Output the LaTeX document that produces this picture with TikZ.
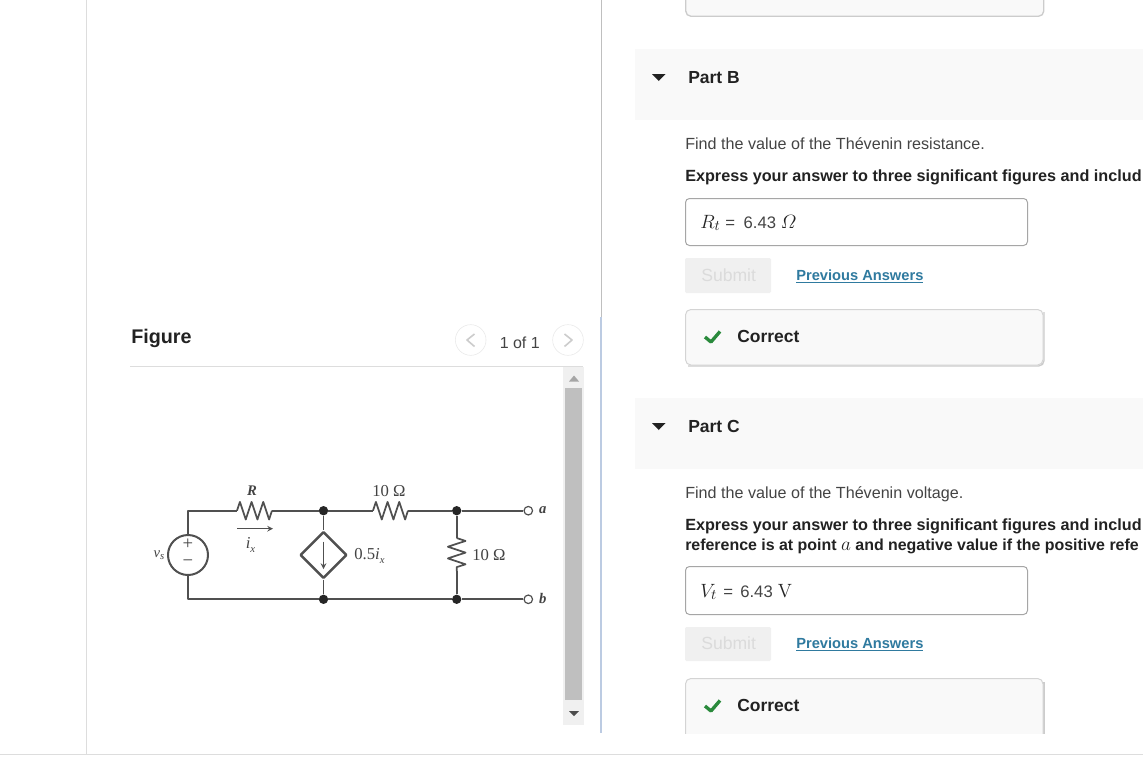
\documentclass[tikz,border=0pt]{standalone}
\usepackage[no-math]{fontspec}
\setmainfont{Liberation Sans}
\newfontfamily\figfont{Liberation Serif}
\usetikzlibrary{shapes.geometric,decorations.pathmorphing}
\definecolor{rulegray}{HTML}{DDDDDD}
\definecolor{bandgray}{HTML}{F9F9F9}
\definecolor{wiregray}{HTML}{505050}
\definecolor{textgray}{HTML}{444444}
\definecolor{inkgray}{HTML}{222222}
\definecolor{linkblue}{HTML}{2F7A9F}
\definecolor{okgreen}{HTML}{2A8A3C}
\definecolor{paneblue}{HTML}{BCCBE2}
\newcommand{\ixlabel}{\textit{i}\raisebox{-2.5pt}{\footnotesize\textit{x}}}
\begin{document}
\begin{tikzpicture}[x=0.75pt,y=-0.75pt,line join=round,>=stealth]
	\tikzset{
		txt/.style={anchor=base west,inner sep=0pt,font=\fontsize{12}{14}\selectfont},
		headtxt/.style={txt,font=\fontsize{13.1}{15}\selectfont\bfseries,text=inkgray},
		bodytxt/.style={txt,font=\fontsize{12.1}{14}\selectfont,text=textgray},
		boldtxt/.style={txt,font=\fontsize{12.15}{14}\selectfont\bfseries,text=inkgray},
		linktxt/.style={txt,font=\fontsize{11}{14}\selectfont\bfseries,text=linkblue},
		subtxt/.style={txt,font=\fontsize{13.2}{15}\selectfont,text=black!14},
		wire/.style={draw=wiregray,line width=1.3pt},
		res/.style={wire,decorate,decoration={zigzag,segment length=8.75pt,amplitude=6.6pt,pre length=0pt,post length=0pt}},
		dot/.style={circle,fill=black!85,inner sep=0pt,minimum size=7pt},
		term/.style={circle,draw=wiregray,fill=white,line width=0.9pt,inner sep=0pt,minimum size=6.4pt},
		figlbl/.style={inner sep=0pt,text=inkgray!85,font=\figfont\fontsize{12.5}{14}\selectfont},
		navbtn/.style={circle,draw=black!9,inner sep=0pt,minimum size=23pt},
		chev/.style={draw=black!20,line width=1.2pt},
		inbox/.style={draw=black!35,fill=white,line width=0.75pt,rounded corners=3pt},
		okbox/.style={draw=black!17,fill=bandgray,line width=0.75pt,rounded corners=4pt},
		okshade/.style={draw=black!20,line width=1pt,rounded corners=4pt}
	}
	\useasboundingbox (0,0) rectangle (1143,761);
	\fill[white] (0,0) rectangle (1143,761);
	% page rules
	\draw[rulegray] (86.5,0)--(86.5,754);
	\draw[rulegray] (0,754.5)--(1143,754.5);
	\draw[black!25] (601.5,0)--(601.5,317);
	\draw[paneblue,line width=1.5pt] (601,317)--(601,733);
	% figure pane
	\node[txt,font=\fontsize{14.8}{18}\selectfont\bfseries,text=inkgray] (figtitle) at (131,343.5) {Figure};
	\draw[rulegray] (130,366.5)--(583,366.5);
	\node[navbtn] (prevbtn) at (470.7,340) {};
	\node[navbtn] (nextbtn) at (568,340) {};
	\draw[chev] (474.5,334)--(467,340)--(474.5,346.5);
	\draw[chev] (564.5,334)--(572,340)--(564.5,346.5);
	\node[txt,text=textgray] (pagecount) at (499.5,348) {1 of 1};
	\fill[black!6] (563,367) rectangle (584,725);
	\fill[black!25] (565,388) rectangle (582,700);
	\fill[black!35] (569,381.5)--(579,381.5)--(574,375.5)--cycle;
	\fill[black!70] (569,711)--(579,711)--(574,716)--cycle;
	% circuit
	\node[circle,draw=wiregray,line width=1.5pt,inner sep=0pt,minimum size=30pt] (vs) at (188,555) {};
	\node[diamond,draw=wiregray,line width=1.8pt,inner sep=0pt,minimum size=35pt] (dep) at (323.5,555) {};
	\node[dot] (ntop1) at (323.5,510.7) {};
	\node[dot] (ntop2) at (456.7,510.7) {};
	\node[dot] (nbot1) at (323.5,599.3) {};
	\node[dot] (nbot2) at (456.7,599.3) {};
	\node[term] (ta) at (528.3,510.7) {};
	\node[term] (tb) at (528.3,599.3) {};
	\coordinate (rl) at (237,510.7);
	\coordinate (rr) at (272,510.7);
	\coordinate (sl) at (373,510.7);
	\coordinate (sr) at (408,510.7);
	\coordinate (pt) at (456.7,538);
	\coordinate (pb) at (456.7,571);
	\coordinate (itail) at (237,528.7);
	\coordinate (ihead) at (273,528.7);
	\coordinate (dtail) at (323.5,541.5);
	\coordinate (dhead) at (323.5,569);
	\draw[wire] (vs.north) |- (rl);
	\draw[res] (rl)--(rr);
	\draw[wire] (rr)--(ntop1);
	\draw[wire] (ntop1)--(sl);
	\draw[res] (sl)--(sr);
	\draw[wire] (sr)--(ntop2);
	\draw[wire] (ntop2)--(ta);
	\draw[wire] (vs.south) |- (nbot1);
	\draw[wire] (nbot1)--(nbot2);
	\draw[wire] (nbot2)--(tb);
	\draw[wire] (ntop1)--(dep.north);
	\draw[wire] (dep.south)--(nbot1);
	\draw[wire] (ntop2)--(pt);
	\draw[res] (pt)--(pb);
	\draw[wire] (pb)--(nbot2);
	\draw[->,draw=wiregray,line width=0.9pt] (itail)--(ihead);
	\draw[->,draw=wiregray,line width=0.9pt] (dtail)--(dhead);
	\node[figlbl,font=\figfont\fontsize{14}{14}\selectfont] (plus) at (188,544) {+};
	\node[figlbl,font=\figfont\fontsize{14}{14}\selectfont] (minus) at (188,563.5) {\textminus};
	\node[figlbl,font=\figfont\itshape\fontsize{11}{12}\selectfont] (vslbl) at (159,555.5) {v\raisebox{-1.5pt}{\footnotesize s}};
	\node[figlbl,font=\figfont\itshape\bfseries\fontsize{11}{14}\selectfont] (rlbl) at (252,491) {R};
	\node[figlbl] (ixlbl) at (250.5,545) {\ixlabel};
	\node[figlbl] (slbl) at (389,490.7) {10 Ω};
	\node[figlbl] (deplbl) at (369.5,556) {0.5\ixlabel};
	\node[figlbl] (plbl) at (489,555) {10 Ω};
	\node[figlbl,font=\figfont\itshape\bfseries\fontsize{11}{14}\selectfont] (albl) at (542.7,510.5) {a};
	\node[figlbl,font=\figfont\itshape\bfseries\fontsize{11}{14}\selectfont] (blbl) at (542.7,598.5) {b};
	% part bands
	\foreach \ytop/\nm/\ttl in {49/partb/Part B,398/partc/Part C}{
		\fill[bandgray] (635,\ytop) rectangle (1143,\ytop+71);
		\fill[inkgray] (652,\ytop+25)--(665.5,\ytop+25)--(658.75,\ytop+32)--cycle;
		\node[headtxt] (\nm) at (688,\ytop+34) {\ttl};
	}
	% box cut by the top edge
	\begin{scope}
		\clip (680,0) rectangle (1050,20);
		\draw[okshade,fill=bandgray] (685.7,-8)--(685.7,16.3)--(1043.8,16.3)--(1043.8,-8);
	\end{scope}
	% part B
	\node[bodytxt] (findb) at (685,149) {Find the value of the Thévenin resistance.};
	\node[boldtxt] (expb) at (685,181) {Express your answer to three significant figures and includ};
	\draw[inbox] (685.5,198.5) rectangle (1027.5,245.5);
	\node[txt,text=inkgray,font=\fontsize{15}{18}\selectfont] (ansb) at (700,228) {$R_t$};
	\node[txt,text=textgray,font=\fontsize{12.5}{14}\selectfont] (valb) at (725,228) {=\hspace{6.5pt}6.43};
	\node[txt,text=inkgray,font=\fontsize{14.5}{18}\selectfont] (unitb) at (780.5,228) {$\mathnormal{\Omega}$};
	\fill[black!6,rounded corners=1pt] (685,258) rectangle (771,293);
	\node[subtxt] (subb) at (701,281) {Submit};
	\node[linktxt] (prevb) at (796,280.5) {\underline{Previous Answers}};
	\draw[okshade] (1044,312)--(1044,366)--(688,366);
	\draw[okbox] (685.5,309.5) rectangle (1043,365);
	\draw[okgreen,line width=2.5pt] (705,337)--(711,342)--(720,331.5);
	\node[headtxt] (okb) at (737,342) {Correct};
	% part C
	\node[bodytxt] (findc) at (685,498) {Find the value of the Thévenin voltage.};
	\node[boldtxt] (expc) at (685,530) {Express your answer to three significant figures and includ};
	\node[boldtxt,font=\fontsize{11.95}{14}\selectfont\bfseries] (refc) at (685,550) {reference is at point {\fontsize{13.5}{14}\selectfont$a$} and negative value if the positive refe};
	\draw[inbox] (685.5,566.5) rectangle (1027.5,614.5);
	\node[txt,text=inkgray,font=\fontsize{15}{18}\selectfont] (ansc) at (700,597) {$V_t$};
	\node[txt,text=textgray,font=\fontsize{12.5}{14}\selectfont] (valc) at (723,597) {=\hspace{5.5pt}6.43};
	\node[txt,text=inkgray,font=\fontsize{14.5}{18}\selectfont] (unitc) at (777.5,597) {$\mathrm{V}$};
	\fill[black!6,rounded corners=1pt] (685,627) rectangle (771,661);
	\node[subtxt] (subc) at (701,649.5) {Submit};
	\node[linktxt] (prevc) at (796,648.5) {\underline{Previous Answers}};
	\begin{scope}
		\clip (680,670) rectangle (1050,733);
		\draw[okshade] (1044,682)--(1044,740);
		\draw[okbox] (685.5,678.5) rectangle (1043,745);
		\draw[okgreen,line width=2.5pt] (705,706)--(711,711)--(720,700.5);
	\end{scope}
	\node[headtxt] (okc) at (737,711) {Correct};
\end{tikzpicture}
\end{document}
